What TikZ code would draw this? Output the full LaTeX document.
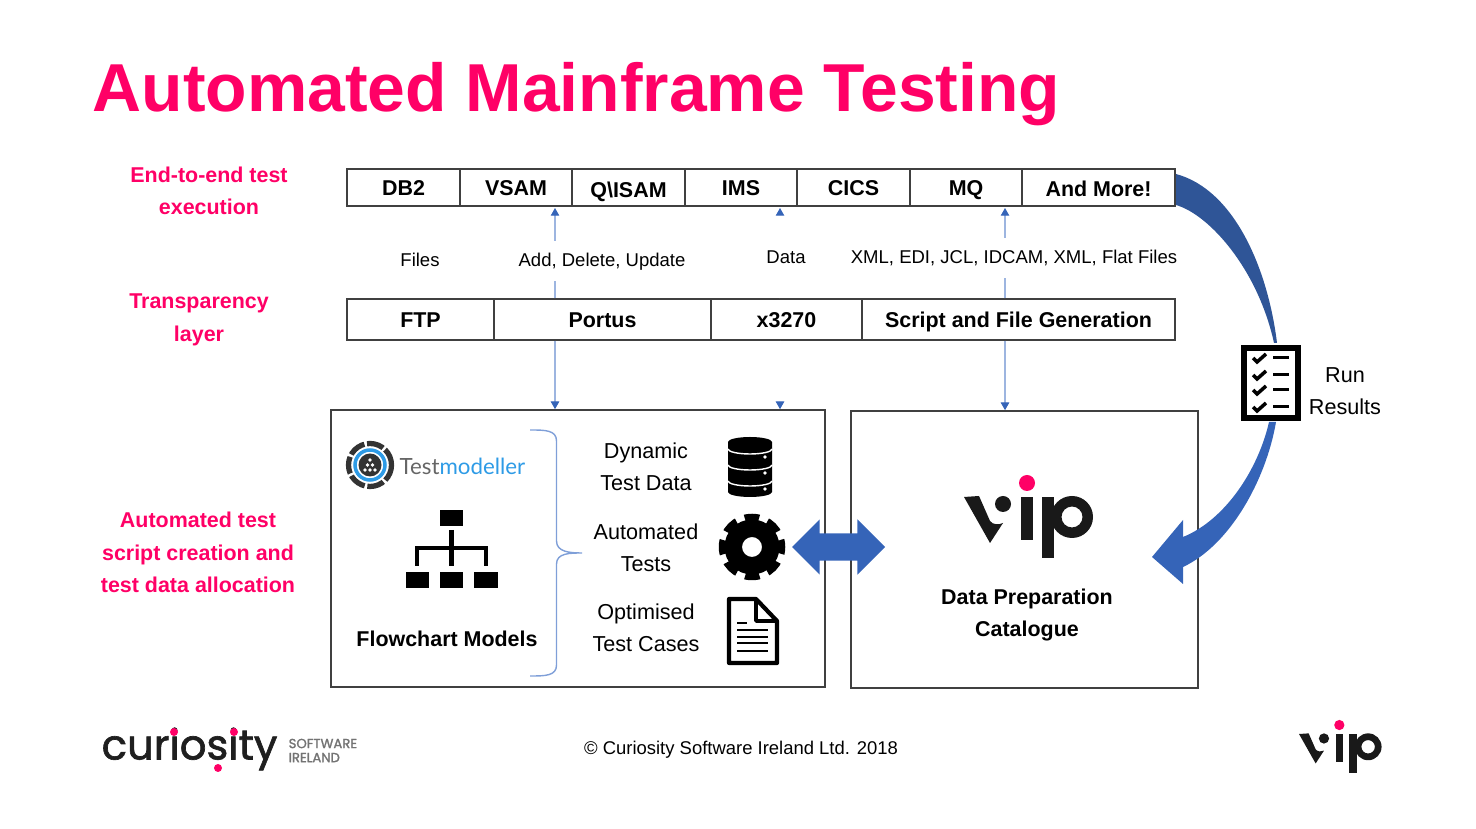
\documentclass[tikz,border=0pt]{standalone}
\usepackage{fontspec}
\setmainfont{Liberation Sans}
\newfontfamily\curfont[FakeBold=1.6]{Poppins}
\newfontfamily\modfont{Lato}
\usetikzlibrary{arrows.meta, shapes.arrows}

\definecolor{vippink}{HTML}{FF0066}
\definecolor{rulegrey}{HTML}{404040}
\definecolor{linkblue}{HTML}{9DB5E0}
\definecolor{braceblue}{HTML}{7F9FD8}
\definecolor{tipblue}{HTML}{3564B8}
\definecolor{darkarrow}{HTML}{2F5597}
\definecolor{modblue}{HTML}{2E9BE6}

\tikzset{
  cellbox/.style={draw=rulegrey, line width=.4pt, font=\bfseries\fontsize{6.1}{8}\selectfont, text height=5pt, text depth=.2pt, inner sep=0pt},
  rowone/.style={cellbox, minimum height=.37cm},
  rowtwo/.style={cellbox, minimum height=.41cm},
  panelbox/.style={draw=rulegrey, line width=.45pt, inner sep=0pt},
  sidelabel/.style={text=vippink, align=center, font=\bfseries\fontsize{6.1}{9.3}\selectfont},
  linklabel/.style={fill=white, inner sep=0pt, minimum height=.4cm, text height=4pt, text depth=1pt, font=\fontsize{5.27}{7}\selectfont},
  bodylabel/.style={align=center, font=\fontsize{6.15}{9.1}\selectfont},
  boldlabel/.style={align=center, font=\bfseries\fontsize{6.1}{9.1}\selectfont},
  linkline/.style={draw=linkblue, line width=.3pt, -{Triangle[color=tipblue, length=2.2pt, width=2.4pt]}},
  faintline/.style={draw=white, line width=.3pt, -{Triangle[color=tipblue, length=2.2pt, width=2.4pt]}},
  viplogo/.pic={
    \fill[black!90] (0,0) -- (.15,.01) -- (.26,-.24) .. controls (.29,-.28) and (.35,-.28) .. (.39,-.26) -- (.26,-.46) -- cycle;
    \fill[black!90] (.39,-.07) circle (.08);
    \fill[black!90] (.57,0) rectangle (.69,-.43);
    \fill[vippink] (.63,.14) circle (.08);
    \fill[black!90] (.78,0) rectangle (.90,-.61);
    \fill[black!90, even odd rule] (1.08,-.20) circle (.21) (1.08,-.20) circle (.105);
  }
}

\begin{document}
\begin{tikzpicture}
\useasboundingbox (0,0) rectangle (14.76,8.29);

% title and side labels
\node (title) at (.92,7.35) [right, inner sep=0pt, text=vippink, font=\bfseries\fontsize{19.3}{24}\selectfont] {Automated Mainframe Testing};
\node (endtoend) at (2.09,6.38) [sidelabel] {End-to-end test\\execution};
\node (transparency) at (1.99,5.09) [sidelabel] {Transparency\\layer};
\node (creation) at (1.98,2.765) [sidelabel] {Automated test\\script creation and\\test data allocation};

% top row
\node (db2) at (4.035,6.415) [rowone, minimum width=1.13cm] {DB2};
\node (vsam) at (5.16,6.415) [rowone, minimum width=1.12cm] {VSAM};
\node (qisam) at (6.285,6.415) [rowone, minimum width=1.13cm] {\raisebox{-.5pt}{Q\textbackslash ISAM}};
\node (ims) at (7.41,6.415) [rowone, minimum width=1.12cm] {IMS};
\node (cics) at (8.535,6.415) [rowone, minimum width=1.13cm] {CICS};
\node (mq) at (9.66,6.415) [rowone, minimum width=1.12cm] {MQ};
\node (more) at (10.985,6.415) [rowone, minimum width=1.53cm] {\raisebox{-.3pt}{And More!}};

% transparency row
\node (ftp) at (4.205,5.095) [rowtwo, minimum width=1.47cm] {FTP};
\node (portus) at (6.025,5.095) [rowtwo, minimum width=2.17cm] {Portus};
\node (x3270) at (7.865,5.095) [rowtwo, minimum width=1.51cm] {x3270};
\node (script) at (10.185,5.095) [rowtwo, minimum width=3.13cm] {Script and File Generation};

% the two panels
\node (modelbox) at (5.78,2.805) [panelbox, minimum width=4.94cm, minimum height=2.77cm] {};
\node (databox) at (10.245,2.795) [panelbox, minimum width=3.47cm, minimum height=2.77cm] {};

% links, the labels sit on top of them
\coordinate (upa) at (5.55,6.21);
\coordinate (upb) at (7.80,6.21);
\coordinate (upc) at (10.05,6.21);
\draw[linkline] (portus.north -| upa) -- (upa);
\draw[faintline] (portus.north -| upb) -- (upb);
\draw[linkline] (script.north -| upc) -- (upc);
\draw[linkline] (portus.south -| upa) -- (modelbox.north -| upa);
\draw[faintline] (x3270.south -| upb) -- (modelbox.north -| upb);
\draw[linkline] (script.south -| upc) -- (databox.north -| upc);

\node (files) at (4.20,5.68) [linklabel] {Files};
\node (adddelete) at (6.02,5.68) [linklabel] {Add, Delete, Update};
\node (datalink) at (7.86,5.71) [linklabel] {Data};
\node (xmlfiles) at (10.14,5.71) [linklabel] {XML, EDI, JCL, IDCAM, XML, Flat Files};

% testmodeller logo
\draw[black!80, line width=1.5pt, dash pattern=on .17cm off .027cm] (3.70,3.64) circle (.215);
\draw[modblue, line width=1pt] (3.70,3.64) circle (.15);
\fill[black!80] (3.70,3.64) circle (.115);
\fill[white] (3.65,3.59) circle (.018) (3.70,3.59) circle (.018) (3.75,3.59) circle (.018) (3.675,3.64) circle (.018) (3.725,3.64) circle (.018) (3.70,3.69) circle (.018);
\node (modeller) at (3.99,3.63) [right, inner sep=0pt, font=\modfont\fontsize{6.35}{8}\selectfont] {\textcolor{black!60}{Test}\textcolor{modblue}{modeller}};

% flowchart icon
\fill[black] (4.40,3.19) rectangle (4.63,3.03);
\fill[black] (4.06,2.57) rectangle (4.29,2.41);
\fill[black] (4.40,2.57) rectangle (4.63,2.41);
\fill[black] (4.74,2.57) rectangle (4.98,2.41);
\draw[black, line width=1.2pt] (4.515,2.99) -- (4.515,2.63);
\draw[black, line width=1.2pt] (4.17,2.63) -- (4.17,2.81) -- (4.86,2.81) -- (4.86,2.63);
\node (flowchart) at (4.47,1.90) [boldlabel] {Flowchart Models};

% brace
\draw[braceblue, line width=.4pt] (5.30,3.99) .. controls (5.45,3.99) and (5.565,3.99) .. (5.565,3.88) -- (5.565,2.88) .. controls (5.565,2.77) and (5.70,2.76) .. (5.82,2.76) .. controls (5.70,2.76) and (5.565,2.76) .. (5.565,2.65) -- (5.565,1.64) .. controls (5.565,1.53) and (5.45,1.53) .. (5.30,1.53);

\node (dyndata) at (6.46,3.625) [bodylabel] {Dynamic\\Test Data};
\node (autotests) at (6.46,2.81) [bodylabel] {Automated\\Tests};
\node (opttests) at (6.46,2.01) [bodylabel] {Optimised\\Test Cases};

% database icon
\fill[black] (7.28,3.87) arc (180:0:.22 and .05) -- (7.72,3.37) arc (0:-180:.22 and .05) -- cycle;
\draw[white, line width=.4pt] (7.28,3.80) arc (180:360:.22 and .05);
\draw[white, line width=.4pt] (7.28,3.64) arc (180:360:.22 and .05);
\draw[white, line width=.4pt] (7.28,3.48) arc (180:360:.22 and .05);
\fill[white] (7.65,3.72) circle (.018) (7.65,3.56) circle (.018) (7.65,3.40) circle (.018);

% gear icon
\draw[black, line width=.085cm, dash pattern=on .14cm off .088cm, dash phase=.07cm] (7.52,2.82) circle (.29);
\fill[black, even odd rule] (7.52,2.82) circle (.275) (7.52,2.82) circle (.10);

% document icon
\draw[black, line width=1.2pt, line join=round] (7.29,2.30) -- (7.56,2.30) -- (7.77,2.08) -- (7.77,1.66) -- (7.29,1.66) -- cycle;
\draw[black, line width=1.1pt, line join=round] (7.56,2.30) -- (7.56,2.08) -- (7.77,2.08);
\draw[black, line width=.75pt] (7.37,2.06) -- (7.47,2.06);
\draw[black, line width=.75pt] (7.37,1.99) -- (7.68,1.99);
\draw[black, line width=.75pt] (7.37,1.92) -- (7.68,1.92);
\draw[black, line width=.75pt] (7.37,1.86) -- (7.68,1.86);
\draw[black, line width=.75pt] (7.37,1.78) -- (7.68,1.78);

% right panel
\pic at (9.64,3.32) {viplogo};
\node (catalogue) at (10.27,2.14) [boldlabel] {Data Preparation\\Catalogue};

% big arrows
\fill[darkarrow] (11.76,6.55) .. controls (12.35,6.39) and (12.68,5.59) .. (12.77,4.86) -- (12.74,4.86) .. controls (12.58,5.59) and (12.10,6.14) .. (11.76,6.24) -- cycle;
\fill[tipblue] (12.76,4.07) .. controls (12.66,3.49) and (12.30,2.84) .. (11.83,2.62) -- (11.83,2.45) -- (11.52,2.72) -- (11.83,3.09) -- (11.83,2.92) .. controls (12.25,3.09) and (12.58,3.59) .. (12.69,4.07) -- cycle;
\node (sync) at (8.385,2.82) [double arrow, fill=tipblue, inner sep=0pt, minimum height=.93cm, text height=.13cm, text depth=.13cm, text width=.3cm, double arrow head extend=.14cm] {};

% run results icon
\draw[black, line width=1.9pt, fill=white] (12.44,4.81) rectangle (12.98,4.11);
\node (results) at (13.45,4.375) [bodylabel] {Run\\Results};
\draw[black, line width=1pt] (12.53,4.71) -- (12.57,4.67) -- (12.66,4.75);
\draw[black, line width=1pt] (12.53,4.54) -- (12.57,4.50) -- (12.66,4.58);
\draw[black, line width=1pt] (12.53,4.39) -- (12.57,4.35) -- (12.66,4.43);
\draw[black, line width=1pt] (12.53,4.22) -- (12.57,4.18) -- (12.66,4.26);
\draw[black, line width=.85pt] (12.73,4.71) -- (12.89,4.71);
\draw[black, line width=.85pt] (12.73,4.54) -- (12.89,4.54);
\draw[black, line width=.85pt] (12.73,4.39) -- (12.89,4.39);
\draw[black, line width=.85pt] (12.73,4.22) -- (12.89,4.22);

% footer
\node (curiosity) at (1.01,.80) [right, inner sep=0pt, text=black!88, font=\curfont\fontsize{11.9}{14}\selectfont] {curiosity};
\fill[vippink] (1.74,.97) circle (.04) (2.34,.97) circle (.04) (2.18,.61) circle (.04);
\node (ireland) at (2.88,.785) [right, inner sep=0pt, align=left, text=black!55, font=\curfont\fontsize{3.75}{4}\selectfont] {SOFTWARE\\IRELAND};
\node (copyright) at (7.41,.79) [inner sep=0pt, font=\fontsize{5.25}{7}\selectfont] {© Curiosity Software Ireland Ltd. 2018};
\pic at (12.99,.95) [scale=.64] {viplogo};
\end{tikzpicture}
\end{document}
